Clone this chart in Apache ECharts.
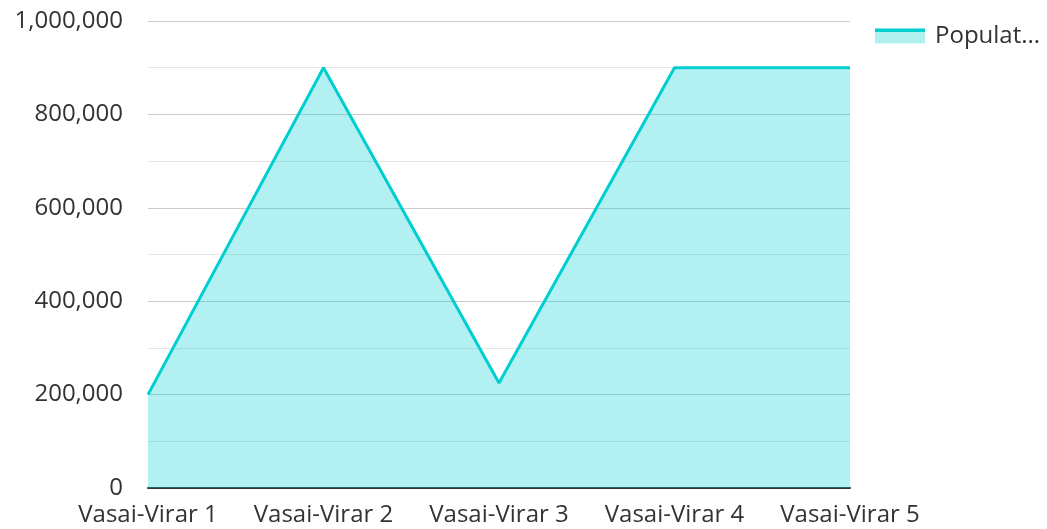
<!DOCTYPE html>
<html>
<head>
<meta charset="utf-8">
<script src="https://cdn.jsdelivr.net/npm/echarts@6/dist/echarts.min.js"></script>
<style>
  html, body { margin: 0; padding: 0; background: #fff; }
  #main { width: 1047px; height: 529px; }
</style>
</head>
<body>
<div id="main"></div>
<script>
// data
const categories = ['Vasai-Virar 1', 'Vasai-Virar 2', 'Vasai-Virar 3', 'Vasai-Virar 4', 'Vasai-Virar 5'];
const population = [200000, 900000, 225000, 900000, 900000];
const seriesName = 'Population';

const lineColor = '#00ced1';
const font = '"Open Sans", "Noto Sans", sans-serif';

const chart = echarts.init(document.getElementById('main'));
chart.setOption({
    animation: false,
    textStyle: {fontFamily: font},
    legend: {
        left: 870,
        top: 19,
        itemWidth: 50,
        itemHeight: 15,
        icon: 'rect',
        itemStyle: {
            color: {
                type: 'linear', x: 0, y: 0, x2: 0, y2: 1,
                colorStops: [
                    {offset: 0, color: lineColor},
                    {offset: 0.22, color: lineColor},
                    {offset: 0.22, color: '#b2f0f0'},
                    {offset: 1, color: '#b2f0f0'}
                ]
            },
            borderWidth: 0
        },
        lineStyle: {width: 0},
        textStyle: {
            fontSize: 24,
            color: '#333',
            fontFamily: font,
            width: 108,
            overflow: 'truncate',
            ellipsis: '...',
            padding: [0, 0, 0, 5]
        },
        data: [seriesName]
    },
    grid: {
        left: 148,
        right: 197,
        top: 21,
        bottom: 41
    },
    xAxis: {
        type: 'category',
        boundaryGap: false,
        data: categories,
        axisLine: {lineStyle: {color: '#333', width: 2}},
        axisTick: {show: false},
        axisLabel: {fontSize: 24, color: '#333', margin: 15, interval: 0, fontFamily: font}
    },
    yAxis: {
        type: 'value',
        min: 0,
        max: 1000000,
        interval: 200000,
        axisLine: {show: false},
        axisTick: {show: false},
        axisLabel: {
            fontSize: 24,
            color: '#333',
            margin: 25,
            fontFamily: font,
            formatter: v => v.toLocaleString('en-US')
        },
        splitLine: {lineStyle: {color: '#cccccc', width: 1}},
        minorTick: {show: false, splitNumber: 2},
        minorSplitLine: {show: true, lineStyle: {color: '#e6e6e6', width: 1}}
    },
    series: [{
        name: seriesName,
        type: 'line',
        data: population,
        symbol: 'none',
        lineStyle: {color: lineColor, width: 3},
        itemStyle: {color: lineColor},
        areaStyle: {color: lineColor, opacity: 0.3},
        z: 1
    }]
});
</script>
</body>
</html>
